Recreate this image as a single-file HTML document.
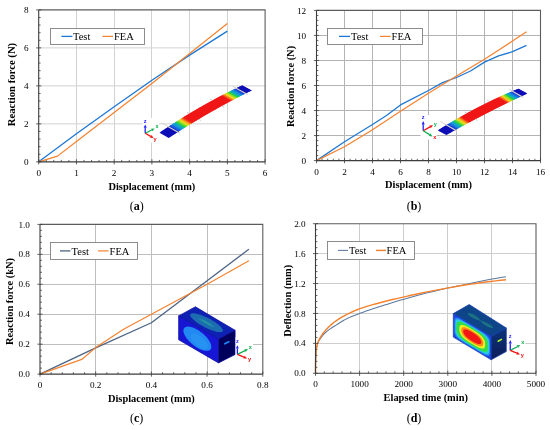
<!DOCTYPE html>
<html><head><meta charset="utf-8"><title>Figure</title>
<style>
html,body{margin:0;padding:0;background:#fff}
svg{display:block}
text{font-family:"Liberation Serif", "Times New Roman", serif;fill:#000}
.tk{font-size:9.2px}
.tt{font-size:10.4px;font-weight:bold;fill:#000}
.lg{font-size:10.5px}
.cp{font-size:12px;fill:#000}
.ax{font-size:5.6px;font-weight:bold;font-family:"Liberation Sans",Arial,sans-serif}
</style></head><body>
<svg width="550" height="430" viewBox="0 0 550 430">
<defs><filter id="bl" x="-5%" y="-5%" width="110%" height="110%"><feGaussianBlur stdDeviation="0.5"/></filter><linearGradient id="rf" x1="0" y1="0" x2="0" y2="1"><stop offset="0" stop-color="#0b3478"/><stop offset="1" stop-color="#071c58"/></linearGradient></defs>
<rect width="550" height="430" fill="#fff"/>
<path d="M76.5 9.9V161.85M114.5 9.9V161.85M151.5 9.9V161.85M189.5 9.9V161.85M227.5 9.9V161.85M38.7 123.86H265.1M38.7 85.88H265.1M38.7 47.89H265.1" stroke="#d2d2d2" stroke-width="1" fill="none"/>
<path d="M38.7 9.9H265.1V161.85" stroke="#5c5c5c" stroke-width="1.1" fill="none"/>
<path d="M38.7 161.85 L76.43 133.74 L114.17 106.77 L151.9 80.18 L189.63 55.11 L227.37 31.17" stroke="#1f77d4" stroke-width="1.3" fill="none" stroke-linejoin="round"/>
<path d="M38.7 161.85 L57.57 156.15 L76.43 141.53 L114.17 112.47 L151.9 83.6 L174.54 65.55 L189.63 53.59 L227.37 23.58" stroke="#f5822f" stroke-width="1.2" fill="none" stroke-linejoin="round"/>
<path d="M38.7 159.25V164.45M46.25 159.95V161.85M53.79 159.95V161.85M61.34 159.95V161.85M68.89 159.95V161.85M76.43 159.25V164.45M83.98 159.95V161.85M91.53 159.95V161.85M99.07 159.95V161.85M106.62 159.95V161.85M114.17 159.25V164.45M121.71 159.95V161.85M129.26 159.95V161.85M136.81 159.95V161.85M144.35 159.95V161.85M151.9 159.25V164.45M159.45 159.95V161.85M166.99 159.95V161.85M174.54 159.95V161.85M182.09 159.95V161.85M189.63 159.25V164.45M197.18 159.95V161.85M204.73 159.95V161.85M212.27 159.95V161.85M219.82 159.95V161.85M227.37 159.25V164.45M234.91 159.95V161.85M242.46 159.95V161.85M250.01 159.95V161.85M257.55 159.95V161.85M265.1 159.25V164.45M36.1 161.85H41.3M38.7 154.25H40.6M38.7 146.66H40.6M38.7 139.06H40.6M38.7 131.46H40.6M36.1 123.86H41.3M38.7 116.27H40.6M38.7 108.67H40.6M38.7 101.07H40.6M38.7 93.47H40.6M36.1 85.88H41.3M38.7 78.28H40.6M38.7 70.68H40.6M38.7 63.08H40.6M38.7 55.49H40.6M36.1 47.89H41.3M38.7 40.29H40.6M38.7 32.69H40.6M38.7 25.09H40.6M38.7 17.5H40.6M36.1 9.9H41.3" stroke="#3c3c3c" stroke-width="0.8" fill="none"/>
<path d="M38.7 9.9V161.85H265.1" stroke="#3c3c3c" stroke-width="1.1" fill="none"/>
<text x="38.7" y="176.4" text-anchor="middle" class="tk">0</text>
<text x="76.43" y="176.4" text-anchor="middle" class="tk">1</text>
<text x="114.17" y="176.4" text-anchor="middle" class="tk">2</text>
<text x="151.9" y="176.4" text-anchor="middle" class="tk">3</text>
<text x="189.63" y="176.4" text-anchor="middle" class="tk">4</text>
<text x="227.37" y="176.4" text-anchor="middle" class="tk">5</text>
<text x="265.1" y="176.4" text-anchor="middle" class="tk">6</text>
<text x="28.6" y="164.95" text-anchor="end" class="tk">0</text>
<text x="28.6" y="126.96" text-anchor="end" class="tk">2</text>
<text x="28.6" y="88.97" text-anchor="end" class="tk">4</text>
<text x="28.6" y="50.99" text-anchor="end" class="tk">6</text>
<text x="28.6" y="13" text-anchor="end" class="tk">8</text>
<text x="151.9" y="190.1" text-anchor="middle" class="tt">Displacement (mm)</text>
<text transform="translate(14.6 84.58) rotate(-90)" text-anchor="middle" class="tt" style="font-size:10.7px">Reaction force (N)</text>
<rect x="50.5" y="28.5" width="94" height="16" fill="#fff" stroke="#808080" stroke-width="0.9"/>
<path d="M61.4 36.4H72.4" stroke="#1f77d4" stroke-width="1.3"/>
<text x="73" y="40" class="lg">Test</text>
<path d="M102.4 36.4H113" stroke="#f5822f" stroke-width="1.2"/>
<text x="114" y="40" class="lg">FEA</text>
<text x="136.7" y="209.8" text-anchor="middle" class="cp">(<tspan font-weight="bold">a</tspan>)</text>
<path d="M344.5 10.4V160.6M372.5 10.4V160.6M400.5 10.4V160.6M428.5 10.4V160.6M456.5 10.4V160.6M484.5 10.4V160.6M512.5 10.4V160.6M316.5 135.5H540.5M316.5 110.5H540.5M316.5 85.5H540.5M316.5 60.5H540.5M316.5 35.5H540.5" stroke="#b4b4b4" stroke-width="1" fill="none"/>
<path d="M316.5 10.4H540.5V160.6" stroke="#5c5c5c" stroke-width="1.1" fill="none"/>
<path d="M316.5 160.6 L344.5 141.82 L372.5 124.55 L386.5 115.54 L400.5 104.9 L428.5 90.51 L442.5 82.62 L456.5 77.49 L470.5 70.98 L484.5 62.09 L498.5 55.96 L512.5 51.71 L526.5 45.45" stroke="#1f77d4" stroke-width="1.3" fill="none" stroke-linejoin="round"/>
<path d="M316.5 160.6 L344.5 146.83 L372.5 129.68 L400.5 111.28 L428.5 93.26 L456.5 76.11 L484.5 59.22 L512.5 41.07 L526.5 31.68" stroke="#f5822f" stroke-width="1.2" fill="none" stroke-linejoin="round"/>
<path d="M316.5 158V163.2M322.1 158.7V160.6M327.7 158.7V160.6M333.3 158.7V160.6M338.9 158.7V160.6M344.5 158V163.2M350.1 158.7V160.6M355.7 158.7V160.6M361.3 158.7V160.6M366.9 158.7V160.6M372.5 158V163.2M378.1 158.7V160.6M383.7 158.7V160.6M389.3 158.7V160.6M394.9 158.7V160.6M400.5 158V163.2M406.1 158.7V160.6M411.7 158.7V160.6M417.3 158.7V160.6M422.9 158.7V160.6M428.5 158V163.2M434.1 158.7V160.6M439.7 158.7V160.6M445.3 158.7V160.6M450.9 158.7V160.6M456.5 158V163.2M462.1 158.7V160.6M467.7 158.7V160.6M473.3 158.7V160.6M478.9 158.7V160.6M484.5 158V163.2M490.1 158.7V160.6M495.7 158.7V160.6M501.3 158.7V160.6M506.9 158.7V160.6M512.5 158V163.2M518.1 158.7V160.6M523.7 158.7V160.6M529.3 158.7V160.6M534.9 158.7V160.6M540.5 158V163.2M313.9 160.6H319.1M316.5 155.59H318.4M316.5 150.59H318.4M316.5 145.58H318.4M316.5 140.57H318.4M313.9 135.57H319.1M316.5 130.56H318.4M316.5 125.55H318.4M316.5 120.55H318.4M316.5 115.54H318.4M313.9 110.53H319.1M316.5 105.53H318.4M316.5 100.52H318.4M316.5 95.51H318.4M316.5 90.51H318.4M313.9 85.5H319.1M316.5 80.49H318.4M316.5 75.49H318.4M316.5 70.48H318.4M316.5 65.47H318.4M313.9 60.47H319.1M316.5 55.46H318.4M316.5 50.45H318.4M316.5 45.45H318.4M316.5 40.44H318.4M313.9 35.43H319.1M316.5 30.43H318.4M316.5 25.42H318.4M316.5 20.41H318.4M316.5 15.41H318.4M313.9 10.4H319.1" stroke="#3c3c3c" stroke-width="0.8" fill="none"/>
<path d="M316.5 10.4V160.6H540.5" stroke="#3c3c3c" stroke-width="1.1" fill="none"/>
<text x="316.5" y="174.8" text-anchor="middle" class="tk">0</text>
<text x="344.5" y="174.8" text-anchor="middle" class="tk">2</text>
<text x="372.5" y="174.8" text-anchor="middle" class="tk">4</text>
<text x="400.5" y="174.8" text-anchor="middle" class="tk">6</text>
<text x="428.5" y="174.8" text-anchor="middle" class="tk">8</text>
<text x="456.5" y="174.8" text-anchor="middle" class="tk">10</text>
<text x="484.5" y="174.8" text-anchor="middle" class="tk">12</text>
<text x="512.5" y="174.8" text-anchor="middle" class="tk">14</text>
<text x="540.5" y="174.8" text-anchor="middle" class="tk">16</text>
<text x="306.2" y="163.7" text-anchor="end" class="tk">0</text>
<text x="306.2" y="138.67" text-anchor="end" class="tk">2</text>
<text x="306.2" y="113.63" text-anchor="end" class="tk">4</text>
<text x="306.2" y="88.6" text-anchor="end" class="tk">6</text>
<text x="306.2" y="63.57" text-anchor="end" class="tk">8</text>
<text x="306.2" y="38.53" text-anchor="end" class="tk">10</text>
<text x="306.2" y="13.5" text-anchor="end" class="tk">12</text>
<text x="428.5" y="188.1" text-anchor="middle" class="tt">Displacement (mm)</text>
<text transform="translate(293.7 86.5) rotate(-90)" text-anchor="middle" class="tt" style="font-size:10.4px">Reaction force (N)</text>
<rect x="327.5" y="28.5" width="95" height="16" fill="#fff" stroke="#808080" stroke-width="0.9"/>
<path d="M339 36.4H350" stroke="#1f77d4" stroke-width="1.3"/>
<text x="351" y="40" class="lg">Test</text>
<path d="M380 36.4H390.6" stroke="#f5822f" stroke-width="1.2"/>
<text x="391.6" y="40" class="lg">FEA</text>
<text x="414" y="209.8" text-anchor="middle" class="cp">(<tspan font-weight="bold">b</tspan>)</text>
<path d="M95.5 224.4V374.1M151.5 224.4V374.1M207.5 224.4V374.1M40 344.5H262.8M40 314.5H262.8M40 284.5H262.8M40 254.5H262.8" stroke="#bebebe" stroke-width="1" fill="none"/>
<path d="M40 224.4H262.8V374.1" stroke="#5c5c5c" stroke-width="1.1" fill="none"/>
<path d="M40 374.1 L95.7 347.9 L151.4 322.75 L248.88 249.25" stroke="#4d6485" stroke-width="1.3" fill="none" stroke-linejoin="round"/>
<path d="M40 374.1 L81.78 359.43 L95.7 347.6 L123.55 329.19 L151.4 314.22 L179.25 299.25 L207.1 284.28 L248.88 260.78" stroke="#f5822f" stroke-width="1.2" fill="none" stroke-linejoin="round"/>
<path d="M40 371.5V376.7M51.14 372.2V374.1M62.28 372.2V374.1M73.42 372.2V374.1M84.56 372.2V374.1M95.7 371.5V376.7M106.84 372.2V374.1M117.98 372.2V374.1M129.12 372.2V374.1M140.26 372.2V374.1M151.4 371.5V376.7M162.54 372.2V374.1M173.68 372.2V374.1M184.82 372.2V374.1M195.96 372.2V374.1M207.1 371.5V376.7M218.24 372.2V374.1M229.38 372.2V374.1M240.52 372.2V374.1M251.66 372.2V374.1M262.8 371.5V376.7M37.4 374.1H42.6M40 368.11H41.9M40 362.12H41.9M40 356.14H41.9M40 350.15H41.9M37.4 344.16H42.6M40 338.17H41.9M40 332.18H41.9M40 326.2H41.9M40 320.21H41.9M37.4 314.22H42.6M40 308.23H41.9M40 302.24H41.9M40 296.26H41.9M40 290.27H41.9M37.4 284.28H42.6M40 278.29H41.9M40 272.3H41.9M40 266.32H41.9M40 260.33H41.9M37.4 254.34H42.6M40 248.35H41.9M40 242.36H41.9M40 236.38H41.9M40 230.39H41.9M37.4 224.4H42.6" stroke="#3c3c3c" stroke-width="0.8" fill="none"/>
<path d="M40 224.4V374.1H262.8" stroke="#3c3c3c" stroke-width="1.1" fill="none"/>
<text x="40" y="388.1" text-anchor="middle" class="tk">0</text>
<text x="95.7" y="388.1" text-anchor="middle" class="tk">0.2</text>
<text x="151.4" y="388.1" text-anchor="middle" class="tk">0.4</text>
<text x="207.1" y="388.1" text-anchor="middle" class="tk">0.6</text>
<text x="262.8" y="388.1" text-anchor="middle" class="tk">0.8</text>
<text x="29.9" y="377.2" text-anchor="end" class="tk">0.0</text>
<text x="29.9" y="347.26" text-anchor="end" class="tk">0.2</text>
<text x="29.9" y="317.32" text-anchor="end" class="tk">0.4</text>
<text x="29.9" y="287.38" text-anchor="end" class="tk">0.6</text>
<text x="29.9" y="257.44" text-anchor="end" class="tk">0.8</text>
<text x="29.9" y="227.5" text-anchor="end" class="tk">1.0</text>
<text x="151.4" y="401.5" text-anchor="middle" class="tt">Displacement (mm)</text>
<text transform="translate(12.7 301.55) rotate(-90)" text-anchor="middle" class="tt" style="font-size:10.4px">Reaction force (kN)</text>
<rect x="50.5" y="242.5" width="87" height="17" fill="#fff" stroke="#808080" stroke-width="0.9"/>
<path d="M60 250.9H70.4" stroke="#4d6485" stroke-width="1.3"/>
<text x="71.6" y="254.5" class="lg">Test</text>
<path d="M98 250.9H108.6" stroke="#f5822f" stroke-width="1.2"/>
<text x="109.6" y="254.5" class="lg">FEA</text>
<text x="136.7" y="422" text-anchor="middle" class="cp">(<tspan font-weight="bold">c</tspan>)</text>
<path d="M359.5 223.7V373.3M403.5 223.7V373.3M447.5 223.7V373.3M491.5 223.7V373.3M315.5 343.5H536M315.5 313.5H536M315.5 283.5H536M315.5 253.5H536" stroke="#cdcdcd" stroke-width="1" fill="none"/>
<path d="M315.5 223.7H536V373.3" stroke="#5c5c5c" stroke-width="1.1" fill="none"/>
<path d="M315.5 373.3 L315.5 371.27 L315.51 369.26 L315.52 367.27 L315.54 365.3 L315.58 363.34 L315.62 361.39 L315.68 359.46 L315.75 357.52 L315.84 355.52 L315.94 353.61 L316.06 352.01 L316.19 350.65 L316.35 349.45 L316.52 348.33 L316.71 347.27 L316.93 346.25 L317.16 345.28 L317.41 344.36 L317.69 343.5 L317.99 342.69 L318.31 341.94 L318.66 341.25 L319.03 340.59 L319.43 339.97 L319.85 339.34 L320.3 338.71 L320.78 338.04 L321.28 337.36 L321.81 336.67 L322.37 335.96 L322.95 335.26 L323.57 334.56 L324.21 333.86 L324.89 333.17 L325.59 332.49 L326.33 331.82 L327.1 331.17 L327.9 330.54 L328.73 329.91 L329.82 329.13 L330.97 328.35 L332.17 327.56 L333.43 326.76 L334.74 325.94 L336.1 325.09 L337.53 324.2 L339.01 323.25 L340.54 322.28 L342.14 321.3 L343.8 320.32 L345.51 319.38 L347.29 318.48 L349.13 317.63 L351.03 316.81 L353 316 L355.03 315.2 L357.12 314.4 L359.28 313.58 L361.5 312.75 L363.79 311.92 L366.15 311.09 L368.58 310.25 L371.07 309.41 L373.63 308.56 L376.26 307.71 L378.97 306.84 L381.74 305.95 L384.59 305.05 L387.5 304.13 L390.49 303.2 L393.56 302.25 L396.69 301.3 L399.9 300.35 L403.19 299.39 L406.55 298.44 L409.99 297.47 L413.51 296.5 L417.1 295.52 L420.77 294.55 L424.52 293.58 L428.34 292.61 L432.25 291.65 L436.24 290.68 L440.31 289.72 L444.46 288.77 L448.69 287.84 L453 286.92 L457.39 286.03 L461.87 285.14 L466.44 284.23 L471.08 283.29 L475.81 282.29 L480.63 281.27 L485.53 280.26 L490.52 279.3 L495.6 278.42 L500.76 277.59 L506.01 276.81" stroke="#5a789e" stroke-width="1.05" fill="none" stroke-linejoin="round"/>
<path d="M315.5 373.3 L315.5 371.27 L315.51 369.26 L315.52 367.27 L315.54 365.3 L315.58 363.34 L315.62 361.39 L315.68 359.46 L315.75 357.53 L315.84 355.54 L315.94 353.64 L316.06 351.99 L316.19 350.53 L316.35 349.2 L316.52 347.98 L316.71 346.88 L316.93 345.88 L317.16 344.94 L317.41 344.04 L317.69 343.18 L317.99 342.32 L318.31 341.47 L318.66 340.64 L319.03 339.84 L319.43 339.05 L319.85 338.26 L320.3 337.48 L320.78 336.68 L321.28 335.88 L321.81 335.09 L322.37 334.29 L322.95 333.5 L323.57 332.71 L324.21 331.91 L324.89 331.12 L325.59 330.31 L326.33 329.5 L327.1 328.68 L327.9 327.85 L328.73 327.01 L329.82 325.96 L330.97 324.9 L332.17 323.84 L333.43 322.8 L334.74 321.78 L336.1 320.78 L337.53 319.8 L339.01 318.84 L340.54 317.89 L342.14 316.96 L343.8 316.04 L345.51 315.12 L347.29 314.21 L349.13 313.31 L351.03 312.4 L353 311.51 L355.03 310.63 L357.12 309.77 L359.28 308.94 L361.5 308.14 L363.79 307.36 L366.15 306.6 L368.58 305.86 L371.07 305.13 L373.63 304.4 L376.26 303.68 L378.97 302.95 L381.74 302.22 L384.59 301.49 L387.5 300.76 L390.49 300.04 L393.56 299.32 L396.69 298.6 L399.9 297.87 L403.19 297.12 L406.55 296.35 L409.99 295.57 L413.51 294.77 L417.1 293.97 L420.77 293.18 L424.52 292.39 L428.34 291.62 L432.25 290.87 L436.24 290.12 L440.31 289.37 L444.46 288.62 L448.69 287.87 L453 287.1 L457.39 286.33 L461.87 285.56 L466.44 284.82 L471.08 284.1 L475.81 283.41 L480.63 282.73 L485.53 282.08 L490.52 281.46 L495.6 280.87 L500.76 280.32 L506.01 279.8" stroke="#f5822f" stroke-width="1.45" fill="none" stroke-linejoin="round"/>
<path d="M315.5 370.7V375.9M324.32 371.4V373.3M333.14 371.4V373.3M341.96 371.4V373.3M350.78 371.4V373.3M359.6 370.7V375.9M368.42 371.4V373.3M377.24 371.4V373.3M386.06 371.4V373.3M394.88 371.4V373.3M403.7 370.7V375.9M412.52 371.4V373.3M421.34 371.4V373.3M430.16 371.4V373.3M438.98 371.4V373.3M447.8 370.7V375.9M456.62 371.4V373.3M465.44 371.4V373.3M474.26 371.4V373.3M483.08 371.4V373.3M491.9 370.7V375.9M500.72 371.4V373.3M509.54 371.4V373.3M518.36 371.4V373.3M527.18 371.4V373.3M536 370.7V375.9M312.9 373.3H318.1M315.5 367.32H317.4M315.5 361.33H317.4M315.5 355.35H317.4M315.5 349.36H317.4M312.9 343.38H318.1M315.5 337.4H317.4M315.5 331.41H317.4M315.5 325.43H317.4M315.5 319.44H317.4M312.9 313.46H318.1M315.5 307.48H317.4M315.5 301.49H317.4M315.5 295.51H317.4M315.5 289.52H317.4M312.9 283.54H318.1M315.5 277.56H317.4M315.5 271.57H317.4M315.5 265.59H317.4M315.5 259.6H317.4M312.9 253.62H318.1M315.5 247.64H317.4M315.5 241.65H317.4M315.5 235.67H317.4M315.5 229.68H317.4M312.9 223.7H318.1" stroke="#3c3c3c" stroke-width="0.8" fill="none"/>
<path d="M315.5 223.7V373.3H536" stroke="#3c3c3c" stroke-width="1.1" fill="none"/>
<text x="315.5" y="387.4" text-anchor="middle" class="tk">0</text>
<text x="359.6" y="387.4" text-anchor="middle" class="tk">1000</text>
<text x="403.7" y="387.4" text-anchor="middle" class="tk">2000</text>
<text x="447.8" y="387.4" text-anchor="middle" class="tk">3000</text>
<text x="491.9" y="387.4" text-anchor="middle" class="tk">4000</text>
<text x="536" y="387.4" text-anchor="middle" class="tk">5000</text>
<text x="305.7" y="376.4" text-anchor="end" class="tk">0.0</text>
<text x="305.7" y="346.48" text-anchor="end" class="tk">0.4</text>
<text x="305.7" y="316.56" text-anchor="end" class="tk">0.8</text>
<text x="305.7" y="286.64" text-anchor="end" class="tk">1.2</text>
<text x="305.7" y="256.72" text-anchor="end" class="tk">1.6</text>
<text x="305.7" y="226.8" text-anchor="end" class="tk">2.0</text>
<text x="425.75" y="401.1" text-anchor="middle" class="tt">Elapsed time (min)</text>
<text transform="translate(290.7 300.8) rotate(-90)" text-anchor="middle" class="tt" style="font-size:10.4px">Deflection (mm)</text>
<rect x="327.5" y="241.5" width="87" height="18" fill="#fff" stroke="#808080" stroke-width="0.9"/>
<path d="M338 250.4H348" stroke="#5a789e" stroke-width="1.05"/>
<text x="349" y="254" class="lg">Test</text>
<path d="M376 250.4H386" stroke="#f5822f" stroke-width="1.45"/>
<text x="386.6" y="254" class="lg">FEA</text>
<text x="414" y="422" text-anchor="middle" class="cp">(<tspan font-weight="bold">d</tspan>)</text>
<g filter="url(#bl)">
<path d="M159.5 132.8L161.78 131.26L170.98 136.4L168.7 137.9Z" fill="#0c0cb8"/>
<path d="M160.53 132.1L162.81 130.57L172.02 135.72L169.74 137.22Z" fill="#0c0cb8"/>
<path d="M161.57 131.4L163.85 129.87L173.06 135.05L170.77 136.54Z" fill="#0c0cb8"/>
<path d="M162.6 130.7L164.88 129.18L174.09 134.37L171.81 135.86Z" fill="#0c0cb8"/>
<path d="M163.64 130.01L165.92 128.5L175.13 133.7L172.85 135.18Z" fill="#0c0cb8"/>
<path d="M164.68 129.32L166.95 127.81L176.17 133.04L173.89 134.51Z" fill="#0c0cb8"/>
<path d="M165.71 128.63L167.99 127.13L177.21 132.37L174.92 133.84Z" fill="#0c0cb8"/>
<path d="M166.75 127.95L169.02 126.45L178.24 131.7L175.96 133.17Z" fill="#0c0cb8"/>
<path d="M167.78 127.27L170.06 125.78L179.28 131.04L177 132.5Z" fill="#0c0cb8"/>
<path d="M168.81 126.59L171.09 125.1L180.32 130.38L178.04 131.84Z" fill="#132acd"/>
<path d="M169.85 125.91L172.13 124.43L181.36 129.73L179.07 131.18Z" fill="#1a55e0"/>
<path d="M170.88 125.24L173.16 123.77L182.39 129.07L180.11 130.51Z" fill="#1972e0"/>
<path d="M171.92 124.57L174.2 123.1L183.43 128.42L181.15 129.86Z" fill="#188ede"/>
<path d="M172.96 123.9L175.23 122.44L184.47 127.77L182.19 129.2Z" fill="#14a0ce"/>
<path d="M173.99 123.23L176.27 121.78L185.51 127.12L183.22 128.55Z" fill="#11b2b8"/>
<path d="M175.03 122.57L177.3 121.12L186.54 126.47L184.26 127.9Z" fill="#1bc668"/>
<path d="M176.06 121.91L178.34 120.47L187.58 125.83L185.3 127.25Z" fill="#44d537"/>
<path d="M177.09 121.25L179.37 119.82L188.62 125.19L186.34 126.6Z" fill="#8dde25"/>
<path d="M178.13 120.6L180.41 119.17L189.66 124.55L187.38 125.96Z" fill="#c9e020"/>
<path d="M179.16 119.95L181.44 118.52L190.69 123.91L188.41 125.31Z" fill="#f1d220"/>
<path d="M180.2 119.3L182.48 117.88L191.73 123.28L189.45 124.68Z" fill="#f6a520"/>
<path d="M181.24 118.65L183.51 117.24L192.77 122.64L190.49 124.04Z" fill="#f66d1e"/>
<path d="M182.27 118.01L184.55 116.6L193.81 122.01L191.52 123.4Z" fill="#f12c19"/>
<path d="M183.31 117.37L185.58 115.97L194.84 121.38L192.56 122.77Z" fill="#f01818"/>
<path d="M184.34 116.73L186.62 115.34L195.88 120.76L193.6 122.14Z" fill="#f01818"/>
<path d="M185.38 116.1L187.65 114.71L196.92 120.13L194.64 121.51Z" fill="#f01818"/>
<path d="M186.41 115.46L188.69 114.08L197.96 119.51L195.67 120.88Z" fill="#f01818"/>
<path d="M187.44 114.83L189.72 113.46L198.99 118.89L196.71 120.26Z" fill="#f01818"/>
<path d="M188.48 114.21L190.76 112.84L200.03 118.28L197.75 119.64Z" fill="#f01818"/>
<path d="M189.52 113.58L191.79 112.22L201.07 117.66L198.79 119.02Z" fill="#f01818"/>
<path d="M190.55 112.96L192.83 111.61L202.11 117.05L199.82 118.4Z" fill="#f01818"/>
<path d="M191.59 112.34L193.86 110.99L203.14 116.44L200.86 117.78Z" fill="#f01818"/>
<path d="M192.62 111.73L194.9 110.38L204.18 115.83L201.9 117.17Z" fill="#f01818"/>
<path d="M193.66 111.11L195.93 109.78L205.22 115.23L202.94 116.56Z" fill="#f01818"/>
<path d="M194.69 110.5L196.97 109.17L206.26 114.62L203.97 115.95Z" fill="#f01818"/>
<path d="M195.73 109.9L198 108.57L207.29 114.02L205.01 115.35Z" fill="#f01818"/>
<path d="M196.76 109.29L199.04 107.97L208.33 113.42L206.05 114.74Z" fill="#f01818"/>
<path d="M197.8 108.69L200.07 107.37L209.37 112.83L207.09 114.14Z" fill="#f01818"/>
<path d="M198.83 108.09L201.11 106.78L210.41 112.23L208.12 113.54Z" fill="#f01818"/>
<path d="M199.87 107.49L202.14 106.19L211.44 111.64L209.16 112.94Z" fill="#f01818"/>
<path d="M200.9 106.9L203.18 105.6L212.48 111.05L210.2 112.35Z" fill="#f01818"/>
<path d="M201.94 106.31L204.21 105.02L213.52 110.46L211.24 111.76Z" fill="#f01818"/>
<path d="M202.97 105.72L205.25 104.44L214.56 109.88L212.27 111.17Z" fill="#f01818"/>
<path d="M204 105.13L206.28 103.86L215.59 109.29L213.31 110.58Z" fill="#f01818"/>
<path d="M205.04 104.55L207.32 103.28L216.63 108.71L214.35 109.99Z" fill="#f01818"/>
<path d="M206.07 103.97L208.35 102.71L217.67 108.13L215.39 109.41Z" fill="#f01818"/>
<path d="M207.11 103.39L209.39 102.13L218.71 107.56L216.42 108.83Z" fill="#f01818"/>
<path d="M208.15 102.82L210.42 101.57L219.75 106.98L217.46 108.25Z" fill="#f01818"/>
<path d="M209.18 102.25L211.46 101L220.78 106.41L218.5 107.67Z" fill="#f01818"/>
<path d="M210.22 101.68L212.49 100.44L221.82 105.84L219.54 107.1Z" fill="#f01818"/>
<path d="M211.25 101.11L213.53 99.88L222.86 105.27L220.57 106.53Z" fill="#f01818"/>
<path d="M212.28 100.55L214.56 99.32L223.89 104.71L221.61 105.95Z" fill="#f01818"/>
<path d="M213.32 99.99L215.6 98.76L224.93 104.15L222.65 105.39Z" fill="#f01818"/>
<path d="M214.36 99.43L216.63 98.21L225.97 103.58L223.69 104.82Z" fill="#f01818"/>
<path d="M215.39 98.87L217.67 97.66L227.01 103.03L224.72 104.26Z" fill="#f01818"/>
<path d="M216.43 98.32L218.7 97.12L228.04 102.47L225.76 103.7Z" fill="#f01818"/>
<path d="M217.46 97.77L219.74 96.57L229.08 101.92L226.8 103.14Z" fill="#f01818"/>
<path d="M218.5 97.22L220.77 96.03L230.12 101.36L227.84 102.58Z" fill="#f01818"/>
<path d="M219.53 96.68L221.81 95.49L231.16 100.82L228.88 102.03Z" fill="#f01818"/>
<path d="M220.56 96.14L222.84 94.96L232.19 100.27L229.91 101.47Z" fill="#f01818"/>
<path d="M221.6 95.6L223.88 94.42L233.23 99.72L230.95 100.93Z" fill="#f2331a"/>
<path d="M222.63 95.06L224.91 93.89L234.27 99.18L231.99 100.38Z" fill="#f6751e"/>
<path d="M223.67 94.53L225.95 93.37L235.31 98.64L233.02 99.83Z" fill="#f5aa20"/>
<path d="M224.71 94L226.98 92.84L236.34 98.1L234.06 99.29Z" fill="#f1d820"/>
<path d="M225.74 93.47L228.02 92.32L237.38 97.57L235.1 98.75Z" fill="#c2e020"/>
<path d="M226.78 92.95L229.05 91.8L238.42 97.03L236.14 98.21Z" fill="#84dd27"/>
<path d="M227.81 92.42L230.09 91.28L239.46 96.5L237.17 97.67Z" fill="#3cd339"/>
<path d="M228.85 91.9L231.12 90.77L240.5 95.97L238.21 97.14Z" fill="#1ac472"/>
<path d="M229.88 91.39L232.16 90.26L241.53 95.44L239.25 96.61Z" fill="#10b0c0"/>
<path d="M230.92 90.87L233.19 89.75L242.57 94.92L240.29 96.08Z" fill="#149ed0"/>
<path d="M231.95 90.36L234.23 89.25L243.61 94.4L241.32 95.55Z" fill="#188be0"/>
<path d="M232.99 89.85L235.26 88.74L244.64 93.88L242.36 95.02Z" fill="#196ee0"/>
<path d="M234.02 89.35L236.3 88.24L245.68 93.36L243.4 94.5Z" fill="#1a51e0"/>
<path d="M235.06 88.84L237.33 87.75L246.72 92.84L244.44 93.98Z" fill="#1223c8"/>
<path d="M236.09 88.34L238.37 87.25L247.76 92.33L245.47 93.46Z" fill="#0c0cb8"/>
<path d="M237.12 87.85L239.4 86.76L248.8 91.82L246.51 92.95Z" fill="#0c0cb8"/>
<path d="M238.16 87.35L240.44 86.27L249.83 91.31L247.55 92.43Z" fill="#0c0cb8"/>
<path d="M239.19 86.86L241.47 85.79L250.87 90.8L248.59 91.92Z" fill="#0c0cb8"/>
<path d="M240.23 86.37L242.3 85.4L251.7 90.4L249.62 91.41Z" fill="#0c0cb8"/>
<path d="M241.27 85.88L242.3 85.4L251.7 90.4L250.66 90.9Z" fill="#0c0cb8"/>
<path d="M161.61 122.85L168.53 126.78" stroke="#cccccc" stroke-width="0.8"/>
<path d="M167.6 126.25L179.78 133.18" stroke="#d2d2cc" stroke-width="1.25"/>
<path d="M232.23 86.16L236.17 88.3" stroke="#cccccc" stroke-width="0.8"/>
<path d="M235.23 87.79L247.62 94.55" stroke="#d2d2cc" stroke-width="1.25"/>
<path d="M186.99 112.35L189.31 113.71" stroke="#b0b0b0" stroke-width="0.7"/>
<path d="M198.58 119.14L200.9 120.5" stroke="#b0b0b0" stroke-width="0.7"/>
<path d="M210.16 99.09L212.49 100.44" stroke="#b0b0b0" stroke-width="0.7"/>
<path d="M221.82 105.84L224.15 107.19" stroke="#b0b0b0" stroke-width="0.7"/>
<rect x="142.6" y="118" width="16.4" height="24.6" fill="#fff"/>
<path d="M145.2 133.3L145.2 127.8" stroke="#1a1aff" stroke-width="1.25"/><path d="M145.2 124.4L146.7 127.8L143.7 127.8Z" fill="#1a1aff"/><text x="145.1" y="122.6" text-anchor="middle" style="fill:#1a1aff" class="ax">z</text><path d="M145.2 133.3L151.68 129.96" stroke="#10b050" stroke-width="1.25"/><path d="M154.7 128.4L152.37 131.29L150.99 128.63Z" fill="#10b050"/><text x="157" y="128.1" text-anchor="middle" style="fill:#10b050" class="ax">x</text><path d="M145.2 133.3L150.65 136.41" stroke="#f01010" stroke-width="1.25"/><path d="M153.6 138.1L149.9 137.72L151.39 135.11Z" fill="#f01010"/><text x="155.1" y="141" text-anchor="middle" style="fill:#f01010" class="ax">y</text>
<path d="M437.8 130.5L440.02 129.11L448.52 133.65L446.3 134.9Z" fill="#0c0cb8"/>
<path d="M438.81 129.87L441.02 128.48L449.54 133.09L447.31 134.33Z" fill="#0c0cb8"/>
<path d="M439.81 129.23L442.03 127.85L450.55 132.53L448.32 133.77Z" fill="#0c0cb8"/>
<path d="M440.82 128.6L443.04 127.23L451.56 131.97L449.33 133.2Z" fill="#0c0cb8"/>
<path d="M441.83 127.98L444.05 126.61L452.57 131.41L450.35 132.64Z" fill="#0c0cb8"/>
<path d="M442.84 127.35L445.05 125.99L453.58 130.85L451.36 132.08Z" fill="#0c0cb8"/>
<path d="M443.85 126.73L446.06 125.38L454.59 130.29L452.37 131.52Z" fill="#0c0cb8"/>
<path d="M444.85 126.12L447.07 124.77L455.6 129.73L453.38 130.96Z" fill="#0c0cb8"/>
<path d="M445.86 125.5L448.08 124.16L456.61 129.18L454.39 130.4Z" fill="#0c0cb8"/>
<path d="M446.87 124.89L449.08 123.55L457.63 128.62L455.4 129.84Z" fill="#132acd"/>
<path d="M447.88 124.28L450.09 122.95L458.64 128.07L456.41 129.29Z" fill="#1a55e0"/>
<path d="M448.88 123.68L451.1 122.35L459.65 127.52L457.42 128.73Z" fill="#1972e0"/>
<path d="M449.89 123.07L452.11 121.76L460.66 126.97L458.44 128.18Z" fill="#188ede"/>
<path d="M450.9 122.47L453.11 121.16L461.67 126.42L459.45 127.63Z" fill="#14a0ce"/>
<path d="M451.91 121.87L454.12 120.57L462.68 125.87L460.46 127.08Z" fill="#11b2b8"/>
<path d="M452.91 121.28L455.13 119.98L463.69 125.32L461.47 126.53Z" fill="#1bc668"/>
<path d="M453.92 120.69L456.14 119.4L464.7 124.78L462.48 125.98Z" fill="#44d537"/>
<path d="M454.93 120.1L457.14 118.81L465.72 124.23L463.49 125.43Z" fill="#8dde25"/>
<path d="M455.94 119.51L458.15 118.23L466.73 123.69L464.5 124.89Z" fill="#c9e020"/>
<path d="M456.94 118.93L459.16 117.66L467.74 123.15L465.51 124.34Z" fill="#f1d220"/>
<path d="M457.95 118.35L460.17 117.08L468.75 122.61L466.53 123.8Z" fill="#f6a520"/>
<path d="M458.96 117.77L461.17 116.51L469.76 122.07L467.54 123.26Z" fill="#f66d1e"/>
<path d="M459.97 117.2L462.18 115.94L470.77 121.53L468.55 122.72Z" fill="#f12c19"/>
<path d="M460.97 116.63L463.19 115.38L471.78 121L469.56 122.18Z" fill="#f01818"/>
<path d="M461.98 116.06L464.2 114.82L472.79 120.46L470.57 121.64Z" fill="#f01818"/>
<path d="M462.99 115.49L465.2 114.26L473.81 119.93L471.58 121.1Z" fill="#f01818"/>
<path d="M464 114.93L466.21 113.7L474.82 119.39L472.59 120.57Z" fill="#f01818"/>
<path d="M465 114.37L467.22 113.15L475.83 118.86L473.6 120.03Z" fill="#f01818"/>
<path d="M466.01 113.81L468.23 112.6L476.84 118.33L474.62 119.5Z" fill="#f01818"/>
<path d="M467.02 113.26L469.23 112.05L477.85 117.8L475.63 118.97Z" fill="#f01818"/>
<path d="M468.02 112.71L470.24 111.5L478.86 117.27L476.64 118.44Z" fill="#f01818"/>
<path d="M469.03 112.16L471.25 110.96L479.87 116.75L477.65 117.91Z" fill="#f01818"/>
<path d="M470.04 111.61L472.26 110.42L480.88 116.22L478.66 117.38Z" fill="#f01818"/>
<path d="M471.05 111.07L473.26 109.89L481.9 115.7L479.67 116.85Z" fill="#f01818"/>
<path d="M472.06 110.53L474.27 109.35L482.91 115.18L480.68 116.33Z" fill="#f01818"/>
<path d="M473.06 109.99L475.28 108.82L483.92 114.65L481.69 115.8Z" fill="#f01818"/>
<path d="M474.07 109.46L476.29 108.29L484.93 114.13L482.71 115.28Z" fill="#f01818"/>
<path d="M475.08 108.93L477.29 107.77L485.94 113.61L483.72 114.76Z" fill="#f01818"/>
<path d="M476.08 108.4L478.3 107.25L486.95 113.1L484.73 114.24Z" fill="#f01818"/>
<path d="M477.09 107.87L479.31 106.73L487.96 112.58L485.74 113.72Z" fill="#f01818"/>
<path d="M478.1 107.35L480.32 106.21L488.97 112.06L486.75 113.2Z" fill="#f01818"/>
<path d="M479.11 106.83L481.32 105.7L489.99 111.55L487.76 112.68Z" fill="#f01818"/>
<path d="M480.12 106.31L482.33 105.19L491 111.04L488.77 112.17Z" fill="#f01818"/>
<path d="M481.12 105.8L483.34 104.68L492.01 110.53L489.78 111.65Z" fill="#f01818"/>
<path d="M482.13 105.29L484.35 104.17L493.02 110.02L490.8 111.14Z" fill="#f01818"/>
<path d="M483.14 104.78L485.35 103.67L494.03 109.51L491.81 110.63Z" fill="#f01818"/>
<path d="M484.14 104.27L486.36 103.17L495.04 109L492.82 110.12Z" fill="#f01818"/>
<path d="M485.15 103.77L487.37 102.68L496.05 108.49L493.83 109.61Z" fill="#f01818"/>
<path d="M486.16 103.27L488.38 102.18L497.06 107.99L494.84 109.1Z" fill="#f01818"/>
<path d="M487.17 102.78L489.38 101.69L498.08 107.48L495.85 108.59Z" fill="#f01818"/>
<path d="M488.18 102.28L490.39 101.2L499.09 106.98L496.86 108.09Z" fill="#f01818"/>
<path d="M489.18 101.79L491.4 100.72L500.1 106.48L497.87 107.58Z" fill="#f01818"/>
<path d="M490.19 101.3L492.41 100.24L501.11 105.98L498.89 107.08Z" fill="#f01818"/>
<path d="M491.2 100.82L493.41 99.76L502.12 105.48L499.9 106.58Z" fill="#f01818"/>
<path d="M492.2 100.33L494.42 99.28L503.13 104.98L500.91 106.08Z" fill="#f01818"/>
<path d="M493.21 99.85L495.43 98.81L504.14 104.48L501.92 105.58Z" fill="#f01818"/>
<path d="M494.22 99.38L496.44 98.34L505.15 103.99L502.93 105.08Z" fill="#f01818"/>
<path d="M495.23 98.9L497.44 97.87L506.17 103.49L503.94 104.58Z" fill="#f01818"/>
<path d="M496.24 98.43L498.45 97.41L507.18 103L504.95 104.09Z" fill="#f01818"/>
<path d="M497.24 97.97L499.46 96.95L508.19 102.51L505.96 103.59Z" fill="#f01818"/>
<path d="M498.25 97.5L500.47 96.49L509.2 102.02L506.98 103.1Z" fill="#f2331a"/>
<path d="M499.26 97.04L501.47 96.03L510.21 101.53L507.99 102.61Z" fill="#f6751e"/>
<path d="M500.26 96.58L502.48 95.58L511.22 101.04L509 102.12Z" fill="#f5aa20"/>
<path d="M501.27 96.12L503.49 95.13L512.23 100.56L510.01 101.63Z" fill="#f1d820"/>
<path d="M502.28 95.67L504.5 94.68L513.24 100.07L511.02 101.14Z" fill="#c2e020"/>
<path d="M503.29 95.22L505.5 94.24L514.26 99.59L512.03 100.65Z" fill="#84dd27"/>
<path d="M504.29 94.77L506.51 93.79L515.27 99.1L513.04 100.17Z" fill="#3cd339"/>
<path d="M505.3 94.32L507.52 93.36L516.28 98.62L514.05 99.68Z" fill="#1ac472"/>
<path d="M506.31 93.88L508.53 92.92L517.29 98.14L515.07 99.2Z" fill="#10b0c0"/>
<path d="M507.32 93.44L509.53 92.49L518.3 97.66L516.08 98.72Z" fill="#149ed0"/>
<path d="M508.32 93.01L510.54 92.06L519.31 97.18L517.09 98.24Z" fill="#188be0"/>
<path d="M509.33 92.57L511.55 91.63L520.32 96.71L518.1 97.76Z" fill="#196ee0"/>
<path d="M510.34 92.14L512.56 91.2L521.33 96.23L519.11 97.28Z" fill="#1a51e0"/>
<path d="M511.35 91.71L513.56 90.78L522.35 95.76L520.12 96.8Z" fill="#1223c8"/>
<path d="M512.36 91.29L514.57 90.36L523.36 95.29L521.13 96.33Z" fill="#0c0cb8"/>
<path d="M513.36 90.87L515.58 89.95L524.37 94.81L522.14 95.85Z" fill="#0c0cb8"/>
<path d="M514.37 90.45L516.59 89.54L525.38 94.34L523.16 95.38Z" fill="#0c0cb8"/>
<path d="M515.38 90.03L517.59 89.13L526.39 93.87L524.17 94.91Z" fill="#0c0cb8"/>
<path d="M516.38 89.62L518.4 88.8L527.2 93.5L525.18 94.44Z" fill="#0c0cb8"/>
<path d="M517.39 89.21L518.4 88.8L527.2 93.5L526.19 93.97Z" fill="#0c0cb8"/>
<path d="M440.19 121.36L446.59 125.06" stroke="#cccccc" stroke-width="0.8"/>
<path d="M445.73 124.57L457 131.09" stroke="#d2d2cc" stroke-width="1.25"/>
<path d="M508.75 89.14L512.44 91.26" stroke="#cccccc" stroke-width="0.8"/>
<path d="M511.56 90.75L523.14 97.4" stroke="#d2d2cc" stroke-width="1.25"/>
<path d="M464.66 111.94L466.82 113.37" stroke="#b0b0b0" stroke-width="0.7"/>
<path d="M475.42 119.07L477.58 120.5" stroke="#b0b0b0" stroke-width="0.7"/>
<path d="M487.21 100.24L489.38 101.69" stroke="#b0b0b0" stroke-width="0.7"/>
<path d="M498.08 107.48L500.25 108.93" stroke="#b0b0b0" stroke-width="0.7"/>
<rect x="420.5" y="115" width="16.0" height="24.6" fill="#fff"/>
<path d="M423.2 130.8L423.2 124.4" stroke="#1a1aff" stroke-width="1.25"/><path d="M423.2 121L424.7 124.4L421.7 124.4Z" fill="#1a1aff"/><text x="423.2" y="119.3" text-anchor="middle" style="fill:#1a1aff" class="ax">z</text><path d="M423.2 130.8L430.05 126.89" stroke="#f01010" stroke-width="1.25"/><path d="M433 125.2L430.79 128.19L429.3 125.58Z" fill="#f01010"/><text x="435.2" y="125.6" text-anchor="middle" style="fill:#10b050" class="ax">y</text><path d="M423.2 130.8L429.59 134.65" stroke="#10b050" stroke-width="1.25"/><path d="M432.5 136.4L428.81 135.93L430.36 133.36Z" fill="#10b050"/><text x="434.7" y="138.8" text-anchor="middle" style="fill:#f01010" class="ax">x</text>
</g>
<g filter="url(#bl)">
<path d="M178.6 315.9L195.4 306.8L235.1 330.3L218.5 339.1Z" fill="#1020b2" stroke="#0a0aa0" stroke-width="0.7" stroke-linejoin="round"/><path d="M178.6 315.9L218.5 339.1L218.5 362.9L178.6 339.7Z" fill="#1616d4" stroke="#0a0aa0" stroke-width="0.7" stroke-linejoin="round"/><path d="M218.5 339.1L235.1 330.3L235.1 354.5L218.5 362.9Z" fill="#00005c" stroke="#0a0aa0" stroke-width="0.7" stroke-linejoin="round"/>
<path d="M211.32 346.82 L211.25 347.67 L211.05 348.43 L210.72 349.1 L210.25 349.67 L209.67 350.13 L208.96 350.48 L208.15 350.72 L207.23 350.84 L206.21 350.85 L205.11 350.74 L203.94 350.51 L202.7 350.17 L201.41 349.72 L200.08 349.16 L198.72 348.5 L197.35 347.75 L195.98 346.91 L194.63 345.99 L193.3 345 L192.01 343.95 L190.77 342.85 L189.59 341.71 L188.49 340.54 L187.48 339.36 L186.56 338.16 L185.74 336.98 L185.04 335.81 L184.45 334.66 L183.99 333.56 L183.66 332.5 L183.46 331.51 L183.39 330.58 L183.46 329.74 L183.66 328.98 L183.99 328.31 L184.45 327.74 L185.04 327.28 L185.74 326.93 L186.56 326.69 L187.48 326.57 L188.49 326.56 L189.59 326.67 L190.77 326.9 L192.01 327.24 L193.3 327.69 L194.63 328.25 L195.98 328.91 L197.35 329.66 L198.72 330.5 L200.08 331.42 L201.41 332.41 L202.7 333.46 L203.94 334.56 L205.11 335.7 L206.21 336.86 L207.23 338.05 L208.15 339.24 L208.96 340.43 L209.67 341.6 L210.25 342.74 L210.72 343.85 L211.05 344.9 L211.25 345.9Z" fill="#2388f2" />
<path d="M208.13 346.4 L208.08 346.93 L207.96 347.41 L207.75 347.83 L207.46 348.19 L207.09 348.49 L206.65 348.71 L206.13 348.86 L205.55 348.94 L204.92 348.95 L204.22 348.88 L203.49 348.74 L202.71 348.52 L201.9 348.24 L201.06 347.89 L200.21 347.48 L199.35 347 L198.49 346.48 L197.64 345.9 L196.8 345.28 L195.99 344.62 L195.21 343.92 L194.47 343.21 L193.78 342.47 L193.14 341.72 L192.56 340.97 L192.05 340.22 L191.61 339.48 L191.24 338.76 L190.95 338.07 L190.74 337.4 L190.61 336.77 L190.57 336.19 L190.61 335.65 L190.74 335.17 L190.95 334.75 L191.24 334.39 L191.61 334.1 L192.05 333.87 L192.56 333.72 L193.14 333.64 L193.78 333.64 L194.47 333.71 L195.21 333.85 L195.99 334.06 L196.8 334.34 L197.64 334.69 L198.49 335.11 L199.35 335.58 L200.21 336.11 L201.06 336.69 L201.9 337.31 L202.71 337.97 L203.49 338.66 L204.22 339.38 L204.92 340.11 L205.55 340.86 L206.13 341.61 L206.65 342.36 L207.09 343.1 L207.46 343.82 L207.75 344.52 L207.96 345.18 L208.08 345.81Z" fill="#2a98f4" opacity="0.7"/>
<path d="M211.59 319.99 L213.09 320.89 L214.53 321.81 L215.89 322.73 L217.16 323.66 L218.33 324.58 L219.39 325.47 L220.32 326.35 L221.12 327.19 L221.78 327.98 L222.29 328.72 L222.65 329.41 L222.86 330.03 L222.9 330.58 L222.8 331.06 L222.53 331.45 L222.11 331.77 L221.54 331.99 L220.83 332.12 L219.98 332.17 L219 332.12 L217.9 331.98 L216.69 331.76 L215.38 331.44 L213.99 331.05 L212.53 330.57 L211.01 330.01 L209.44 329.39 L207.85 328.7 L206.25 327.96 L204.64 327.16 L203.06 326.32 L201.51 325.45 L200.01 324.55 L198.57 323.63 L197.21 322.7 L195.94 321.78 L194.77 320.86 L193.72 319.96 L192.78 319.09 L191.98 318.25 L191.32 317.46 L190.81 316.71 L190.45 316.03 L190.25 315.4 L190.2 314.85 L190.31 314.38 L190.57 313.98 L190.99 313.67 L191.56 313.45 L192.27 313.31 L193.12 313.27 L194.1 313.31 L195.2 313.45 L196.41 313.68 L197.72 313.99 L199.11 314.39 L200.58 314.87 L202.1 315.42 L203.66 316.05 L205.25 316.73 L206.86 317.48 L208.46 318.28 L210.04 319.11Z" fill="#1f6cb0" />
<path d="M208.23 321.81 L209.01 322.27 L209.76 322.73 L210.48 323.19 L211.16 323.65 L211.79 324.1 L212.38 324.54 L212.91 324.96 L213.38 325.36 L213.79 325.73 L214.12 326.07 L214.38 326.38 L214.57 326.66 L214.68 326.89 L214.71 327.09 L214.66 327.25 L214.53 327.36 L214.33 327.42 L214.05 327.45 L213.7 327.42 L213.28 327.35 L212.8 327.24 L212.25 327.08 L211.65 326.88 L211.01 326.64 L210.31 326.37 L209.59 326.05 L208.83 325.71 L208.05 325.33 L207.26 324.94 L206.46 324.52 L205.66 324.08 L204.87 323.63 L204.1 323.17 L203.35 322.71 L202.63 322.24 L201.95 321.78 L201.31 321.33 L200.72 320.9 L200.19 320.48 L199.72 320.08 L199.32 319.71 L198.98 319.37 L198.72 319.05 L198.54 318.78 L198.43 318.54 L198.4 318.34 L198.44 318.19 L198.57 318.08 L198.77 318.01 L199.05 317.99 L199.4 318.01 L199.82 318.08 L200.31 318.2 L200.85 318.35 L201.45 318.55 L202.1 318.79 L202.79 319.07 L203.51 319.38 L204.27 319.73 L205.05 320.1 L205.84 320.5 L206.64 320.92 L207.44 321.36Z" fill="#2290a8" opacity="0.5"/>
<path d="M202.16 320.17L210.94 325.27" stroke="#22d080" stroke-width="0.6" opacity="0.8"/>
<path d="M224.81 343.85L228.79 341.74" stroke="#1888f8" stroke-width="1.7" stroke-linecap="round"/>
<rect x="235.6" y="337" width="17.4" height="27" fill="#fff"/>
<path d="M237.4 354.4L237.4 348.6" stroke="#1a1aff" stroke-width="1.25"/><path d="M237.4 345.2L238.9 348.6L235.9 348.6Z" fill="#1a1aff"/><text x="237.3" y="342.6" text-anchor="middle" style="fill:#1a1aff" class="ax">z</text><path d="M237.4 354.4L244.96 350.62" stroke="#10b050" stroke-width="1.25"/><path d="M248 349.1L245.63 351.96L244.29 349.28Z" fill="#10b050"/><text x="250.4" y="348.7" text-anchor="middle" style="fill:#10b050" class="ax">x</text><path d="M237.4 354.4L243.96 357.1" stroke="#f01010" stroke-width="1.25"/><path d="M247.1 358.4L243.38 358.49L244.53 355.72Z" fill="#f01010"/><text x="249.6" y="361.2" text-anchor="middle" style="fill:#f01010" class="ax">y</text>
</g>
<g filter="url(#bl)">
<path d="M453.3 313.6L469.2 304.5L506.3 328L491.2 336.4Z" fill="#0b4488" stroke="#1238b8" stroke-width="0.7" stroke-linejoin="round"/><path d="M453.3 313.6L491.2 336.4L491.2 359.8L453.3 337.1Z" fill="#1a44e0" stroke="#1238b8" stroke-width="0.7" stroke-linejoin="round"/><path d="M491.2 336.4L506.3 328L506.3 351.5L491.2 359.8Z" fill="url(#rf)" stroke="#1238b8" stroke-width="0.7" stroke-linejoin="round"/>
<path d="M490.06 347.47 L490.03 352.38 L489.95 353.6 L489.8 354.39 L489.6 354.95 L489.33 355.35 L489 355.62 L488.6 355.77 L488.12 355.82 L487.56 355.77 L486.89 355.61 L486.11 355.34 L485.18 354.94 L484.04 354.38 L482.58 353.59 L480.46 352.37 L472.25 347.44 L464.04 342.48 L461.92 341.16 L460.46 340.19 L459.32 339.38 L458.39 338.66 L457.61 338 L456.94 337.36 L456.38 336.73 L455.9 336.1 L455.5 335.46 L455.17 334.8 L454.9 334.08 L454.7 333.27 L454.55 332.3 L454.47 330.98 L454.44 326.03 L454.47 321.12 L454.55 319.9 L454.7 319.11 L454.9 318.55 L455.17 318.15 L455.5 317.88 L455.9 317.73 L456.38 317.68 L456.94 317.73 L457.61 317.89 L458.39 318.16 L459.32 318.56 L460.46 319.12 L461.92 319.91 L464.04 321.13 L472.25 326.06 L480.46 331.02 L482.58 332.34 L484.04 333.31 L485.18 334.12 L486.11 334.84 L486.89 335.5 L487.56 336.14 L488.12 336.77 L488.6 337.4 L489 338.04 L489.33 338.7 L489.6 339.42 L489.8 340.23 L489.95 341.2 L490.03 342.52Z" fill="#2a8cf2" />
<path d="M489.12 346.9 L489.08 350.73 L488.99 351.89 L488.82 352.67 L488.59 353.22 L488.29 353.62 L487.92 353.88 L487.47 354.03 L486.93 354.07 L486.31 354.01 L485.58 353.83 L484.73 353.53 L483.74 353.11 L482.53 352.52 L481.02 351.7 L478.91 350.49 L472.25 346.5 L465.59 342.48 L463.48 341.15 L461.97 340.15 L460.76 339.29 L459.77 338.51 L458.92 337.79 L458.19 337.09 L457.57 336.41 L457.03 335.73 L456.58 335.04 L456.21 334.32 L455.91 333.56 L455.68 332.73 L455.51 331.75 L455.42 330.48 L455.38 326.6 L455.42 322.77 L455.51 321.61 L455.68 320.83 L455.91 320.28 L456.21 319.88 L456.58 319.62 L457.03 319.47 L457.57 319.43 L458.19 319.49 L458.92 319.67 L459.77 319.97 L460.76 320.39 L461.97 320.98 L463.48 321.8 L465.59 323.01 L472.25 327 L478.91 331.02 L481.02 332.35 L482.53 333.35 L483.74 334.21 L484.73 334.99 L485.58 335.71 L486.31 336.41 L486.93 337.09 L487.47 337.77 L487.92 338.46 L488.29 339.18 L488.59 339.94 L488.82 340.77 L488.99 341.75 L489.08 343.02Z" fill="#28cfe6" />
<path d="M488.17 346.33 L488.13 348.76 L488 349.83 L487.78 350.59 L487.48 351.15 L487.09 351.56 L486.62 351.84 L486.05 351.98 L485.38 352.01 L484.61 351.93 L483.73 351.72 L482.73 351.38 L481.59 350.91 L480.26 350.28 L478.67 349.45 L476.63 348.29 L472.25 345.68 L467.87 343.02 L465.83 341.72 L464.24 340.65 L462.91 339.68 L461.77 338.77 L460.77 337.9 L459.89 337.05 L459.12 336.22 L458.45 335.39 L457.88 334.55 L457.41 333.7 L457.02 332.82 L456.72 331.9 L456.5 330.88 L456.37 329.66 L456.33 327.17 L456.37 324.74 L456.5 323.67 L456.72 322.91 L457.02 322.35 L457.41 321.94 L457.88 321.66 L458.45 321.52 L459.12 321.49 L459.89 321.57 L460.77 321.78 L461.77 322.12 L462.91 322.59 L464.24 323.22 L465.83 324.05 L467.87 325.21 L472.25 327.82 L476.63 330.48 L478.67 331.78 L480.26 332.85 L481.59 333.82 L482.73 334.73 L483.73 335.6 L484.61 336.45 L485.38 337.28 L486.05 338.11 L486.62 338.95 L487.09 339.8 L487.48 340.68 L487.78 341.6 L488 342.62 L488.13 343.84Z" fill="#30dc50" />
<path d="M485.14 344.5 L485.09 345.94 L484.96 346.76 L484.75 347.37 L484.45 347.85 L484.07 348.2 L483.6 348.43 L483.04 348.56 L482.4 348.59 L481.66 348.51 L480.84 348.33 L479.92 348.05 L478.89 347.64 L477.74 347.12 L476.42 346.45 L474.85 345.57 L472.25 344.04 L469.65 342.45 L468.08 341.43 L466.76 340.51 L465.61 339.65 L464.58 338.82 L463.66 338 L462.84 337.19 L462.1 336.38 L461.46 335.58 L460.9 334.78 L460.43 333.98 L460.05 333.17 L459.75 332.33 L459.54 331.46 L459.41 330.49 L459.36 329 L459.41 327.56 L459.54 326.74 L459.75 326.13 L460.05 325.65 L460.43 325.3 L460.9 325.07 L461.46 324.94 L462.1 324.91 L462.84 324.99 L463.66 325.17 L464.58 325.45 L465.61 325.86 L466.76 326.38 L468.08 327.05 L469.65 327.93 L472.25 329.46 L474.85 331.05 L476.42 332.07 L477.74 332.99 L478.89 333.85 L479.92 334.68 L480.84 335.5 L481.66 336.31 L482.4 337.12 L483.04 337.92 L483.6 338.72 L484.07 339.52 L484.45 340.33 L484.75 341.17 L484.96 342.04 L485.09 343.01Z" fill="#f0ee20" />
<path d="M483.24 343.36 L483.2 344.25 L483.07 344.85 L482.86 345.32 L482.57 345.68 L482.19 345.95 L481.73 346.13 L481.2 346.21 L480.58 346.21 L479.89 346.13 L479.12 345.95 L478.27 345.69 L477.35 345.33 L476.34 344.88 L475.22 344.32 L473.96 343.63 L472.25 342.63 L470.54 341.57 L469.28 340.75 L468.16 339.96 L467.15 339.2 L466.23 338.44 L465.38 337.69 L464.61 336.94 L463.92 336.19 L463.3 335.45 L462.77 334.72 L462.31 333.99 L461.93 333.27 L461.64 332.55 L461.43 331.83 L461.3 331.08 L461.26 330.14 L461.3 329.25 L461.43 328.65 L461.64 328.18 L461.93 327.82 L462.31 327.55 L462.77 327.37 L463.3 327.29 L463.92 327.29 L464.61 327.37 L465.38 327.55 L466.23 327.81 L467.15 328.17 L468.16 328.62 L469.28 329.18 L470.54 329.87 L472.25 330.87 L473.96 331.93 L475.22 332.75 L476.34 333.54 L477.35 334.3 L478.27 335.06 L479.12 335.81 L479.89 336.56 L480.58 337.31 L481.2 338.05 L481.73 338.78 L482.19 339.51 L482.57 340.23 L482.86 340.95 L483.07 341.67 L483.2 342.42Z" fill="#f88a18" />
<path d="M481.27 342.18 L481.23 342.74 L481.12 343.15 L480.93 343.48 L480.67 343.73 L480.34 343.91 L479.93 344.02 L479.46 344.06 L478.92 344.03 L478.32 343.93 L477.66 343.77 L476.94 343.53 L476.16 343.23 L475.33 342.85 L474.43 342.4 L473.45 341.87 L472.25 341.17 L471.05 340.43 L470.07 339.78 L469.17 339.15 L468.34 338.52 L467.56 337.89 L466.84 337.26 L466.18 336.63 L465.58 336 L465.04 335.39 L464.57 334.78 L464.16 334.18 L463.83 333.6 L463.57 333.03 L463.38 332.48 L463.27 331.93 L463.23 331.32 L463.27 330.76 L463.38 330.35 L463.57 330.02 L463.83 329.77 L464.16 329.59 L464.57 329.48 L465.04 329.44 L465.58 329.47 L466.18 329.57 L466.84 329.73 L467.56 329.97 L468.34 330.27 L469.17 330.65 L470.07 331.1 L471.05 331.63 L472.25 332.33 L473.45 333.07 L474.43 333.72 L475.33 334.35 L476.16 334.98 L476.94 335.61 L477.66 336.24 L478.32 336.87 L478.92 337.5 L479.46 338.11 L479.93 338.72 L480.34 339.32 L480.67 339.9 L480.93 340.47 L481.12 341.02 L481.23 341.57Z" fill="#f21616" />
<path d="M475.51 315.57 L476.05 315.91 L476.58 316.26 L477.08 316.61 L477.55 316.96 L477.98 317.3 L478.37 317.64 L478.72 317.97 L479.01 318.28 L479.26 318.58 L479.46 318.86 L479.6 319.12 L479.68 319.35 L479.7 319.56 L479.67 319.73 L479.59 319.88 L479.44 319.99 L479.24 320.08 L478.99 320.12 L478.69 320.14 L478.34 320.12 L477.95 320.06 L477.51 319.97 L477.04 319.85 L476.54 319.7 L476.01 319.52 L475.46 319.31 L474.89 319.07 L474.32 318.81 L473.73 318.52 L473.15 318.22 L472.57 317.91 L472.01 317.57 L471.46 317.23 L470.93 316.89 L470.43 316.54 L469.97 316.19 L469.53 315.84 L469.14 315.51 L468.8 315.18 L468.5 314.86 L468.25 314.57 L468.06 314.29 L467.92 314.03 L467.84 313.8 L467.81 313.59 L467.84 313.41 L467.93 313.27 L468.07 313.15 L468.27 313.07 L468.52 313.02 L468.82 313.01 L469.17 313.03 L469.57 313.09 L470 313.17 L470.47 313.3 L470.97 313.45 L471.5 313.63 L472.05 313.84 L472.62 314.08 L473.2 314.34 L473.78 314.62 L474.36 314.93 L474.94 315.24Z" fill="#1b7084" />
<path d="M488.61 323.64 L489.16 323.98 L489.69 324.33 L490.19 324.68 L490.67 325.02 L491.1 325.36 L491.5 325.7 L491.86 326.02 L492.17 326.33 L492.43 326.62 L492.63 326.89 L492.79 327.14 L492.88 327.37 L492.92 327.56 L492.91 327.73 L492.84 327.87 L492.71 327.97 L492.52 328.05 L492.29 328.09 L492 328.09 L491.67 328.06 L491.29 328 L490.87 327.9 L490.41 327.77 L489.92 327.62 L489.4 327.43 L488.86 327.21 L488.3 326.97 L487.73 326.7 L487.15 326.42 L486.57 326.11 L486 325.79 L485.43 325.46 L484.88 325.12 L484.35 324.78 L483.85 324.43 L483.38 324.09 L482.94 323.74 L482.54 323.41 L482.19 323.09 L481.88 322.78 L481.62 322.49 L481.41 322.22 L481.26 321.97 L481.16 321.74 L481.12 321.55 L481.14 321.38 L481.21 321.24 L481.34 321.13 L481.52 321.06 L481.76 321.02 L482.04 321.02 L482.38 321.05 L482.76 321.11 L483.18 321.2 L483.64 321.33 L484.13 321.49 L484.64 321.68 L485.19 321.9 L485.74 322.14 L486.32 322.4 L486.89 322.69 L487.47 322.99 L488.05 323.31Z" fill="#1b7084" />
<path d="M480.68 320.18 L481.12 320.45 L481.56 320.72 L481.98 320.98 L482.38 321.24 L482.76 321.5 L483.12 321.74 L483.45 321.97 L483.75 322.19 L484.02 322.39 L484.25 322.57 L484.44 322.73 L484.58 322.87 L484.69 322.99 L484.75 323.08 L484.77 323.15 L484.75 323.19 L484.68 323.2 L484.57 323.19 L484.41 323.15 L484.22 323.08 L483.99 322.99 L483.72 322.88 L483.41 322.74 L483.08 322.58 L482.72 322.4 L482.33 322.2 L481.92 321.98 L481.5 321.75 L481.06 321.51 L480.62 321.25 L480.17 320.99 L479.72 320.72 L479.28 320.45 L478.84 320.18 L478.42 319.92 L478.02 319.66 L477.64 319.4 L477.28 319.16 L476.95 318.93 L476.65 318.71 L476.38 318.51 L476.15 318.33 L475.96 318.17 L475.82 318.03 L475.71 317.91 L475.65 317.82 L475.63 317.75 L475.65 317.71 L475.72 317.7 L475.83 317.71 L475.99 317.75 L476.18 317.82 L476.41 317.91 L476.68 318.02 L476.99 318.16 L477.32 318.32 L477.68 318.5 L478.07 318.7 L478.48 318.92 L478.9 319.15 L479.34 319.39 L479.78 319.65 L480.23 319.91Z" fill="#1b7084" />
<path d="M498.15 341.19L501.47 339.35" stroke="#b4f428" stroke-width="1.6" stroke-linecap="round"/>
<rect x="507.5" y="333" width="17.8" height="28" fill="#fff"/>
<path d="M510.2 350.4L510.27 343.4" stroke="#1a1aff" stroke-width="1.25"/><path d="M510.3 340L511.77 343.41L508.77 343.39Z" fill="#1a1aff"/><text x="510.1" y="338.3" text-anchor="middle" style="fill:#1a1aff" class="ax">z</text><path d="M510.2 350.4L517.29 346.68" stroke="#10b050" stroke-width="1.25"/><path d="M520.3 345.1L517.99 348.01L516.59 345.35Z" fill="#10b050"/><text x="522.9" y="344.4" text-anchor="middle" style="fill:#10b050" class="ax">x</text><path d="M510.2 350.4L516.85 353.12" stroke="#f01010" stroke-width="1.25"/><path d="M520 354.4L516.29 354.5L517.42 351.73Z" fill="#f01010"/><text x="522.2" y="356.8" text-anchor="middle" style="fill:#f01010" class="ax">y</text>
</g>
</svg>
</body></html>
